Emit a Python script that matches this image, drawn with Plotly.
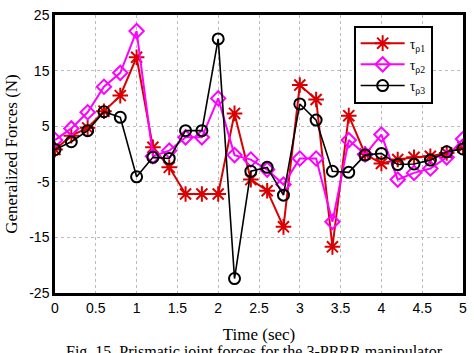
import plotly.graph_objects as go

time_s = [0.0, 0.2, 0.4, 0.6, 0.8, 1.0, 1.2, 1.4, 1.6, 1.8, 2.0, 2.2, 2.4,
          2.6, 2.8, 3.0, 3.2, 3.4, 3.6, 3.8, 4.0, 4.2, 4.4, 4.6, 4.8, 5.0]
tau_p1 = [0.8, 3.3, 4.7, 7.7, 10.5, 17.4, 1.2, -2.4, -7.2, -7.2, -7.2, 7.3, -4.6,
          -6.6, -13.1, 12.4, 9.8, -16.7, 6.9, 0.0, -1.7, -1.0, -0.6, -0.4, 0.2, 1.2]
tau_p2 = [2.5, 4.6, 7.5, 12.1, 14.6, 22.1, -0.4, 0.6, 3.0, 3.0, 10.0, -0.2, -1.0,
          -2.8, -5.5, -0.8, -0.8, -12.2, 2.5, -0.1, 3.5, -4.6, -3.4, -2.6, -0.6, 2.7]
tau_p3 = [0.8, 2.2, 4.2, 7.6, 6.6, -4.1, -0.6, -0.8, 4.2, 4.2, 20.7, -22.4, -3.1,
          -2.4, -7.4, 9.0, 6.1, -3.1, -3.3, -0.2, 0.1, -1.9, -1.8, -1.1, 0.4, 0.9]

x_ticks = [0, 0.5, 1, 1.5, 2, 2.5, 3, 3.5, 4, 4.5, 5]
x_tick_text = ["0", "0.5", "1", "1.5", "2", "2.5", "3", "3.5", "4", "4.5", "5"]
y_ticks = [-25, -15, -5, 5, 15, 25]
y_tick_text = ["-25", "-15", "-5", "5", "15", "25"]

serif = "Liberation Serif, Times New Roman, serif"
sans = "Liberation Sans, Arial, sans-serif"

fig = go.Figure()
fig.add_trace(go.Scatter(
    x=time_s, y=tau_p1, mode="lines+markers", name="τ<sub>ρ1</sub>",
    line=dict(color="#d80000", width=2),
    marker=dict(symbol="asterisk-open", size=13, color="#d80000",
                line=dict(color="#d80000", width=2))))
fig.add_trace(go.Scatter(
    x=time_s, y=tau_p2, mode="lines+markers", name="τ<sub>ρ2</sub>",
    line=dict(color="#ff00ff", width=2),
    marker=dict(symbol="diamond-open", size=11, color="#ff00ff",
                line=dict(color="#ff00ff", width=2))))
fig.add_trace(go.Scatter(
    x=time_s, y=tau_p3, mode="lines+markers", name="τ<sub>ρ3</sub>",
    line=dict(color="black", width=1.6),
    marker=dict(symbol="circle-open", size=11, color="black",
                line=dict(color="black", width=2))))

fig.update_layout(
    width=474, height=353,
    margin=dict(l=55, r=9, t=7, b=60),
    plot_bgcolor="white", paper_bgcolor="white",
    showlegend=True,
    legend=dict(x=0.732, y=0.962, xanchor="left", yanchor="top",
                bordercolor="black", borderwidth=2, bgcolor="white",
                font=dict(family=serif, size=14, color="black"),
                tracegroupgap=0, itemwidth=44),
    xaxis=dict(range=[0, 5], tickvals=x_ticks, ticktext=x_tick_text,
               showline=True, linecolor="black", linewidth=2.5, mirror=True,
               showgrid=True, gridcolor="#bbbbbb", griddash="dot", gridwidth=1,
               zeroline=False, ticks="", tickfont=dict(family=sans, size=14, color="black"),
               title=dict(text="Time (sec)", font=dict(family=serif, size=17, color="black"),
                          standoff=14)),
    yaxis=dict(range=[-25, 25], tickvals=y_ticks, ticktext=y_tick_text,
               showline=True, linecolor="black", linewidth=2.5, mirror=True,
               showgrid=True, gridcolor="#bbbbbb", griddash="dot", gridwidth=1,
               zeroline=False, ticks="", tickfont=dict(family=sans, size=14, color="black"),
               title=dict(text="Generalized Forces (N)",
                          font=dict(family=serif, size=17, color="black"), standoff=8)),
)

fig.add_annotation(
    text="Fig. 15. Prismatic joint forces for the 3-PRRR manipulator",
    xref="paper", yref="paper", x=0.49, y=-0.172, xanchor="center", yanchor="top",
    showarrow=False, font=dict(family=serif, size=16, color="black"))

fig.write_html("out.html")
